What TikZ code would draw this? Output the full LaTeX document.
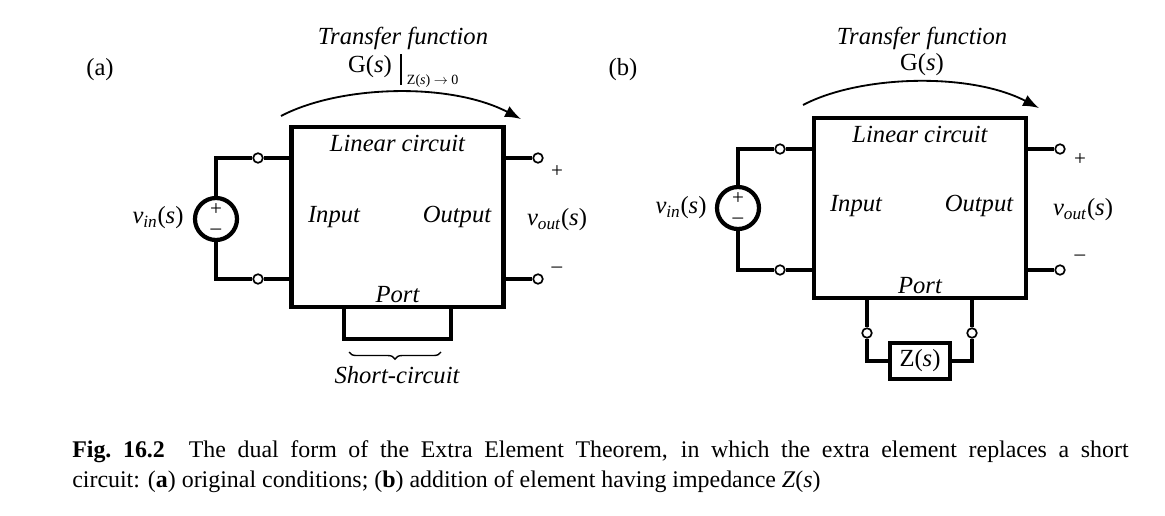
\documentclass[tikz,border=0pt]{standalone}
\usepackage{fontspec}
\setmainfont{Liberation Serif}
\usetikzlibrary{positioning}
\usetikzlibrary{arrows.meta}
\usetikzlibrary{decorations.pathreplacing}
\tikzset{wire/.style = {line width=2.2pt}}
\tikzset{blk/.style = {draw, line width=3.5pt, minimum width=5.3cm, minimum height=4.5cm}}
\tikzset{term/.style = {draw, circle, line width=1.2pt, fill=white, inner sep=0pt, minimum size=2.4mm}}
\tikzset{src/.style = {draw, circle, line width=3pt, minimum size=1.05cm, inner sep=0pt}}
\tikzset{lbl/.style = {font=\fontsize{17.5}{19}\selectfont\itshape}}
\tikzset{sgn/.style = {font=\fontsize{15}{15}\selectfont, inner sep=0pt}}
\tikzset{arr/.style = {line width=1.3pt, -{Latex[length=4mm,width=3mm]}}}
\newcommand{\vlab}[1]{\textit{v}\textsubscript{\textit{#1}}(\textit{s})}

\begin{document}
\begin{tikzpicture}[x=0.025cm, y=-0.025cm,
  font=\fontsize{17.5}{19}\selectfont]
\useasboundingbox (0,0) rectangle (1165,515);

%% panel (a)
\node at (100,70) {(a)};
\node[blk] (boxa) at (397.5,217) {};
\node[lbl, below=4pt of boxa.north] (lina) {Linear circuit};
\node[lbl] (ina) at (334,217) {Input};
\node[lbl] (outa) at (457,217) {Output};
\node[lbl, above=1pt of boxa.south] (porta) {Port};
\node[term] (ta1) at (258,158) {};
\node[term] (ta2) at (258,279) {};
\node[term] (ta3) at (538,158) {};
\node[term] (ta4) at (538,279) {};
\node[src] (sa) at (216,219) {};
\node[sgn, yshift=7pt] at (sa) {+};
\node[sgn, yshift=-9pt] at (sa) {\textendash};
\node (vina) at (158,218) {\vlab{in}};
\node (vouta) at (557,220) {\vlab{out}};
\node[sgn] at (557,172) {+};
\node[sgn] at (557,270) {\textendash};
\draw[wire] (ta1) -| (sa.north);
\draw[wire] (ta2) -| (sa.south);
\draw[wire] (ta1) -- (ta1 -| boxa.west);
\draw[wire] (ta2) -- (ta2 -| boxa.west);
\draw[wire] (ta3) -- (ta3 -| boxa.east);
\draw[wire] (ta4) -- (ta4 -| boxa.east);
\draw[line width=3pt] (344,309) |- (451,339) -- (451,309);
\draw[decorate, decoration={brace, amplitude=5pt}, line width=1pt] (441,352) -- (349,352);
\node[lbl] (sca) at (397,375) {Short-circuit};
\node[lbl] (tfa) at (403,38) {Transfer function};
\node (ga) at (370,67) {G(\textit{s})};
\draw[line width=0.8pt] (401,54) -- (401,85);
\node[font=\fontsize{10}{10}\selectfont, anchor=west] at (402,81) {Z(\textit{s}) $\rightarrow$ 0};
\draw[arr] (281,116) .. controls (340,85) and (450,82) .. (521,119);

%% panel (b)
\node at (623,70) {(b)};
\node[blk] (boxb) at (920,208) {};
\node[lbl, below=4pt of boxb.north] (linb) {Linear circuit};
\node[lbl] (inb) at (856,206) {Input};
\node[lbl] (outb) at (979,206) {Output};
\node[lbl, above=1pt of boxb.south] (portb) {Port};
\node[term] (tb1) at (780,149) {};
\node[term] (tb2) at (780,270) {};
\node[term] (tb3) at (1060,149) {};
\node[term] (tb4) at (1060,270) {};
\node[src] (sb) at (738,208) {};
\node[sgn, yshift=7pt] at (sb) {+};
\node[sgn, yshift=-9pt] at (sb) {\textendash};
\node (vinb) at (681,208) {\vlab{in}};
\node (voutb) at (1083,210) {\vlab{out}};
\node[sgn] at (1080,160) {+};
\node[sgn] at (1080,258) {\textendash};
\draw[wire] (tb1) -| (sb.north);
\draw[wire] (tb2) -| (sb.south);
\draw[wire] (tb1) -- (tb1 -| boxb.west);
\draw[wire] (tb2) -- (tb2 -| boxb.west);
\draw[wire] (tb3) -- (tb3 -| boxb.east);
\draw[wire] (tb4) -- (tb4 -| boxb.east);
\node[draw, line width=2.2pt, minimum width=1.5cm, minimum height=0.9cm] (zb) at (920,361) {Z(\textit{s})};
\coordinate (pb1) at (867,300);
\coordinate (pb2) at (972,300);
\node[term] (tb5) at (867,333) {};
\node[term] (tb6) at (972,333) {};
\draw[wire] (pb1) -- (tb5);
\draw[wire] (pb2) -- (tb6);
\draw[wire] (tb5) |- (zb.west);
\draw[wire] (tb6) |- (zb.east);
\node[lbl] (tfb) at (922,38) {Transfer function};
\node (gb) at (922,65) {G(\textit{s})};
\draw[arr] (803,105) .. controls (860,75) and (970,72) .. (1039,108);

%% caption
\node[anchor=north west, text width=26.4cm, align=justify, inner sep=0pt,
  font=\fontsize{17}{21.5}\selectfont] (cap) at (72,440)
  {\textbf{Fig.~16.2}\quad The dual form of the Extra Element Theorem, in which the extra element replaces a short\linebreak circuit: (\textbf{a}) original conditions; (\textbf{b}) addition of element having impedance \textit{Z}(\textit{s})};
\end{tikzpicture}
\end{document}
